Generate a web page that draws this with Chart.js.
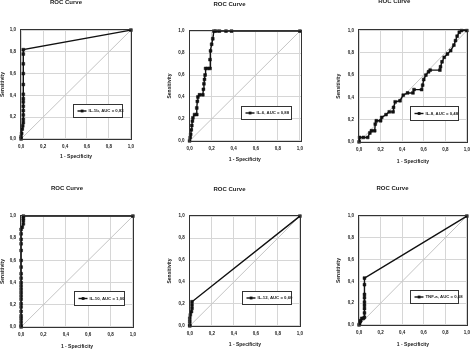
<!DOCTYPE html>
<html>
<head>
<meta charset="utf-8">
<script src="https://cdn.jsdelivr.net/npm/chart.js@4.4.1/dist/chart.umd.min.js"></script>
<style>
  html, body { margin: 0; padding: 0; background: #fff; }
  #wrap { position: relative; width: 474px; height: 349px; overflow: hidden; }
  canvas { position: absolute; }
</style>
</head>
<body>
<div id="wrap">
  <canvas id="rocIl1b" width="158" height="175" style="left:0;top:0"></canvas>
  <canvas id="rocIl6" width="158" height="175" style="left:158px;top:0"></canvas>
  <canvas id="rocIl8" width="158" height="175" style="left:316px;top:0"></canvas>
  <canvas id="rocIl10" width="158" height="174" style="left:0;top:175px"></canvas>
  <canvas id="rocIl12" width="158" height="174" style="left:158px;top:175px"></canvas>
  <canvas id="rocTnf" width="158" height="174" style="left:316px;top:175px"></canvas>
</div>
<script>
var tickValues = [0, 0.2, 0.4, 0.6, 0.8, 1.0];
var tickLabels = ['0,0', '0,2', '0,4', '0,6', '0,8', '1,0'];
var diagX = [0, 1];
var diagY = [0, 1];

var il1bFpr = [0, 0, 0.005, 0.01, 0.015, 0.02, 0.02, 0.02, 0.02, 0.02, 0.02, 0.02, 0.02, 0.02, 0.02, 0.02, 0.02, 0.02, 1];
var il1bTpr = [0, 0.02, 0.05, 0.09, 0.12, 0.15, 0.18, 0.22, 0.26, 0.3, 0.34, 0.37, 0.41, 0.5, 0.6, 0.69, 0.78, 0.82, 1];

var il6Fpr = [0, 0.005, 0.01, 0.015, 0.02, 0.025, 0.03, 0.045, 0.065, 0.065, 0.07, 0.075, 0.09, 0.12, 0.125, 0.13, 0.135, 0.14, 0.145, 0.165, 0.185, 0.185, 0.19, 0.2, 0.21, 0.22, 0.24, 0.27, 0.33, 0.38, 1];
var il6Tpr = [0, 0.03, 0.06, 0.1, 0.14, 0.18, 0.21, 0.24, 0.24, 0.3, 0.36, 0.4, 0.42, 0.42, 0.47, 0.52, 0.56, 0.6, 0.66, 0.66, 0.66, 0.74, 0.82, 0.88, 0.93, 1, 1, 1, 1, 1, 1];

var il8Fpr = [0, 0.005, 0.04, 0.08, 0.1, 0.115, 0.145, 0.15, 0.16, 0.2, 0.21, 0.25, 0.28, 0.315, 0.32, 0.335, 0.38, 0.41, 0.45, 0.5, 0.51, 0.58, 0.59, 0.6, 0.62, 0.645, 0.66, 0.75, 0.756, 0.77, 0.79, 0.82, 0.85, 0.88, 0.895, 0.91, 0.93, 0.95, 1];
var il8Tpr = [0, 0.04, 0.04, 0.04, 0.08, 0.1, 0.1, 0.16, 0.19, 0.19, 0.22, 0.245, 0.27, 0.27, 0.31, 0.36, 0.37, 0.42, 0.44, 0.44, 0.47, 0.47, 0.51, 0.56, 0.6, 0.63, 0.645, 0.645, 0.675, 0.72, 0.76, 0.79, 0.82, 0.87, 0.91, 0.95, 0.985, 1, 1];

var il10Fpr = [0, 0, 0, 0, 0, 0, 0, 0, 0, 0, 0, 0, 0, 0, 0, 0, 0, 0, 0, 0, 0, 0, 0, 0.01, 0.02, 0.02, 0.02, 0.02, 1];
var il10Tpr = [0, 0.015, 0.045, 0.075, 0.1, 0.14, 0.18, 0.21, 0.25, 0.28, 0.31, 0.34, 0.37, 0.4, 0.44, 0.48, 0.54, 0.6, 0.69, 0.75, 0.79, 0.84, 0.88, 0.9, 0.93, 0.96, 0.98, 1, 1];

var il12Fpr = [0, 0, 0, 0, 0.005, 0.015, 0.02, 0.02, 0.02, 1];
var il12Tpr = [0, 0.01, 0.04, 0.07, 0.1, 0.13, 0.16, 0.19, 0.22, 1];

var tnfFpr = [0, 0.005, 0.01, 0.015, 0.025, 0.04, 0.05, 0.05, 0.05, 0.05, 0.05, 0.05, 0.05, 0.05, 0.05, 1];
var tnfTpr = [0, 0.01, 0.03, 0.04, 0.06, 0.06, 0.07, 0.11, 0.15, 0.18, 0.21, 0.25, 0.28, 0.37, 0.43, 1];

var panelTitles = ['ROC Curve', 'ROC Curve', 'ROC Curve', 'ROC Curve', 'ROC Curve', 'ROC Curve'];
var markerNames = ['IL-1b', 'IL-6', 'IL-8', 'IL-10', 'IL-12', 'TNF-a'];
var aucValues = ['0,83', '0,88', '0,48', '1,00', '0,60', '0,68'];

var FONT = "'Liberation Sans', Arial, sans-serif";
var INK = '#1a1a1a';

function setTicks(axis) {
  axis.ticks = tickValues.map(function (v) { return { value: v }; });
}

function tickText(value) {
  var i = tickValues.indexOf(value);
  return i >= 0 ? tickLabels[i] : '';
}

// frame round the plot + the boxed legend inside it
var rocFrame = {
  id: 'rocFrame',
  afterDraw: function (chart, args, opts) {
    var ctx = chart.ctx;
    var ca = chart.chartArea;
    var xs = chart.scales.x, ys = chart.scales.y;
    ctx.save();
    ctx.strokeStyle = '#333';
    ctx.lineWidth = 1;
    ctx.strokeRect(Math.round(ca.left) + 0.5, Math.round(ca.top) + 0.5,
      Math.round(ca.right - ca.left) - 1, Math.round(ca.bottom - ca.top) - 1);

    var l = Math.round(xs.getPixelForValue(0.47)) + 0.5;
    var r = Math.round(xs.getPixelForValue(0.92)) + 0.5;
    var t = Math.round(ys.getPixelForValue(0.32)) + 0.5;
    var b = Math.round(ys.getPixelForValue(0.2)) + 0.5;
    ctx.fillStyle = '#fff';
    ctx.fillRect(l, t, r - l, b - t);
    ctx.strokeStyle = '#333';
    ctx.strokeRect(l, t, r - l, b - t);

    var my = (t + b) / 2;
    ctx.strokeStyle = '#111';
    ctx.lineWidth = 1.4;
    ctx.beginPath();
    ctx.moveTo(l + 4, my);
    ctx.lineTo(l + 13, my);
    ctx.stroke();
    ctx.fillStyle = '#111';
    ctx.fillRect(l + 7.2, my - 1.4, 2.8, 2.8);

    ctx.fillStyle = INK;
    ctx.font = 'bold 4.3px ' + FONT;
    ctx.textBaseline = 'middle';
    ctx.textAlign = 'left';
    ctx.fillText(opts.label, l + 15, my);
    ctx.restore();
  }
};

function rocChart(id, fpr, tpr, idx, box) {
  var el = document.getElementById(id);
  var pts = fpr.map(function (x, i) { return { x: x, y: tpr[i] }; });
  var ref = diagX.map(function (x, i) { return { x: x, y: diagY[i] }; });

  new Chart(el, {
    type: 'scatter',
    data: {
      datasets: [{
        data: ref,
        showLine: true,
        borderColor: '#c4c4c4',
        borderWidth: 1,
        pointRadius: 0,
        order: 2,
      }, {
        data: pts,
        showLine: true,
        borderColor: '#111',
        borderWidth: 1.4,
        pointStyle: 'rect',
        pointRadius: 2,
        pointBackgroundColor: '#111',
        pointBorderColor: '#111',
        pointBorderWidth: 0.5,
        clip: 4,
        order: 1,
      }],
    },
    options: {
      responsive: false,
      animation: false,
      events: [],
      layout: { padding: { left: 0, top: 0, right: box.w - box.right, bottom: 0 } },
      plugins: {
        legend: { display: false },
        tooltip: { enabled: false },
        title: {
          display: true,
          text: panelTitles[idx],
          color: INK,
          font: { family: FONT, size: 6, weight: 'bold' },
          padding: { top: box.titleY - 3.6, bottom: box.top - box.titleY - 3.6 },
        },
        rocFrame: { label: markerNames[idx] + ', AUC = ' + aucValues[idx] },
      },
      scales: {
        x: {
          type: 'linear',
          min: -0.01,
          max: 1.01,
          afterBuildTicks: setTicks,
          afterFit: function (s) { s.height = box.h - box.bottom; },
          grid: { color: '#d6d6d6', lineWidth: 1, drawTicks: false },
          border: { display: false },
          ticks: {
            callback: tickText, autoSkip: false, maxRotation: 0, padding: 4,
            color: INK, font: { family: FONT, size: 4.5, weight: 'bold' },
          },
          title: {
            display: true, text: '1 - Specificity', color: INK,
            font: { family: FONT, size: 5, weight: 'bold' },
            padding: { top: 0, bottom: box.h - box.xTitleY - 3 },
          },
        },
        y: {
          type: 'linear',
          min: -0.01,
          max: 1.01,
          afterBuildTicks: setTicks,
          afterFit: function (s) { s.width = box.left; },
          grid: { color: '#d6d6d6', lineWidth: 1, drawTicks: false },
          border: { display: false },
          ticks: {
            callback: tickText, autoSkip: false, padding: 4,
            color: INK, font: { family: FONT, size: 4.5, weight: 'bold' },
          },
          title: {
            display: true, text: 'Sensitivity', color: INK,
            font: { family: FONT, size: 5, weight: 'bold' },
            padding: { top: box.yTitleX - 3, bottom: 0 },
          },
        },
      },
    },
    plugins: [rocFrame],
  });
}

rocChart('rocIl1b', il1bFpr, il1bTpr, 0, { w: 158, h: 175, left: 20, top: 29, right: 132, bottom: 140, titleY: 2, yTitleX: 2.5, xTitleY: 157 });
rocChart('rocIl6', il6Fpr, il6Tpr, 1, { w: 158, h: 175, left: 30.5, top: 30, right: 143, bottom: 142, titleY: 4, yTitleX: 12, xTitleY: 160 });
rocChart('rocIl8', il8Fpr, il8Tpr, 2, { w: 158, h: 175, left: 42, top: 29.5, right: 156.5, bottom: 143, titleY: 1.5, yTitleX: 23, xTitleY: 162 });
rocChart('rocIl10', il10Fpr, il10Tpr, 3, { w: 158, h: 174, left: 20, top: 40, right: 134, bottom: 153, titleY: 13, yTitleX: 2.5, xTitleY: 172 });
rocChart('rocIl12', il12Fpr, il12Tpr, 4, { w: 158, h: 174, left: 30.7, top: 40, right: 143, bottom: 152, titleY: 14, yTitleX: 12, xTitleY: 170 });
rocChart('rocTnf', tnfFpr, tnfTpr, 5, { w: 158, h: 174, left: 42, top: 40, right: 153, bottom: 151, titleY: 13, yTitleX: 23, xTitleY: 170 });
</script>
</body>
</html>
